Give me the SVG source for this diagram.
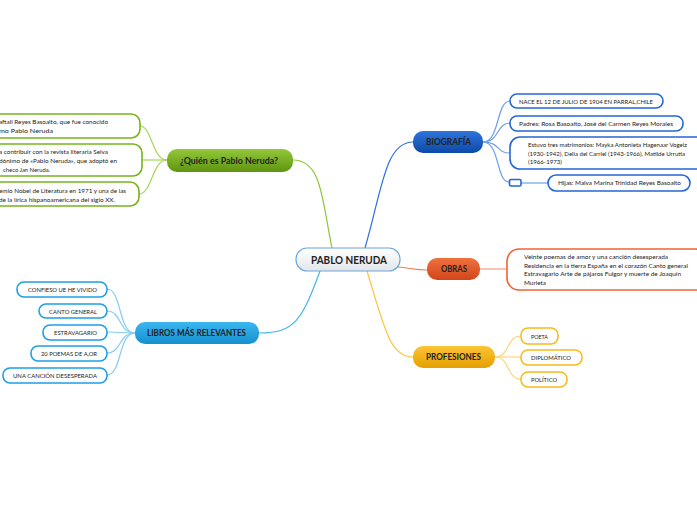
<svg xmlns="http://www.w3.org/2000/svg" width="697" height="520" viewBox="0 0 697 520">
<defs>
<linearGradient id="gCenter" x1="0" y1="0" x2="0" y2="1"><stop offset="0" stop-color="#ffffff"/><stop offset="1" stop-color="#e2e6ea"/></linearGradient>
<linearGradient id="gGreen" x1="0" y1="0" x2="0" y2="1"><stop offset="0" stop-color="#94c83a"/><stop offset="1" stop-color="#5e9410"/></linearGradient>
<linearGradient id="gBlue" x1="0" y1="0" x2="0" y2="1"><stop offset="0" stop-color="#2f74dc"/><stop offset="1" stop-color="#0d4aa8"/></linearGradient>
<linearGradient id="gRed" x1="0" y1="0" x2="0" y2="1"><stop offset="0" stop-color="#f2703e"/><stop offset="1" stop-color="#d0461a"/></linearGradient>
<linearGradient id="gYellow" x1="0" y1="0" x2="0" y2="1"><stop offset="0" stop-color="#fcc437"/><stop offset="1" stop-color="#e59f00"/></linearGradient>
<linearGradient id="gSky" x1="0" y1="0" x2="0" y2="1"><stop offset="0" stop-color="#3cb6ef"/><stop offset="1" stop-color="#1590d0"/></linearGradient>
</defs>
<style>
text{font-family:Lato,"Open Sans","Liberation Sans",sans-serif;fill:#222}
.main{font-weight:bold;font-size:10.5px}
.br{font-weight:bold;font-size:8.5px}
.sub{font-size:6.2px}
.cap{font-size:6px}
.conn path{fill:none;stroke-width:1.2}
.bx{fill:#fff;stroke-width:1.6}
</style>
<rect width="697" height="520" fill="#fff"/>
<g class="conn" id="connectors">
<path d="M332,248 C322,200 322,160 293,160" stroke="#8fc53a"/>
<path d="M365,248 C382,190 385,142 413,142" stroke="#2d6fe0"/>
<path d="M398,267 C410,268 415,270 427,270" stroke="#f57c55"/>
<path d="M367,271 C385,330 390,357 413,357" stroke="#fcc43a"/>
<path d="M320,271 C302,320 295,333 259,333" stroke="#45b6ee"/>
<g stroke="#a8d45a">
<path d="M167,160 C152,160 152,126 140,126"/>
<path d="M167,160 L142,160"/>
<path d="M167,160 C152,160 152,194 139,194"/>
</g>
<g stroke="#6fa0ea">
<path d="M483,142 C500,142 496,101 510,101"/>
<path d="M483,142 C500,142 496,123 510,123"/>
<path d="M483,142 C500,142 496,153 510,153"/>
<path d="M483,142 C500,142 496,182 509,182"/>
<path d="M521,183 L548,183"/>
</g>
<g stroke="#f79a7d">
<path d="M480,269 L507,269"/>
</g>
<g stroke="#fdd57a">
<path d="M495,357 C510,357 506,336 521,336"/>
<path d="M495,357 L521,357"/>
<path d="M495,357 C510,357 506,379 521,379"/>
</g>
<g stroke="#85cdf3">
<path d="M135,333 C118,333 122,289 107,289"/>
<path d="M135,333 C118,333 122,311 107,311"/>
<path d="M135,333 L107,332"/>
<path d="M135,333 C118,333 122,353 107,353"/>
<path d="M135,333 C118,333 122,375 107,375"/>
</g>
</g>
<g id="center">
<rect x="296" y="248" width="104" height="23" rx="11" fill="url(#gCenter)" stroke="#6ea6d8" stroke-width="1.2"/>
<text class="main" x="311" y="263.5" textLength="76" lengthAdjust="spacingAndGlyphs">PABLO NERUDA</text>
</g>
<g id="quien">
<rect x="167" y="149" width="126" height="23" rx="10" fill="url(#gGreen)"/>
<text class="br" x="180" y="163.5" textLength="98" lengthAdjust="spacingAndGlyphs">¿Quién es Pablo Neruda?</text>
</g>
<g id="q1">
<rect class="bx" x="-20" y="114" width="160" height="24" rx="9" stroke="#77b41c"/>
<text class="sub" x="-1" y="124" textLength="109" lengthAdjust="spacingAndGlyphs">aftali Reyes Basoalto, que fue conocido</text>
<text class="sub" x="-1" y="133" textLength="54" lengthAdjust="spacingAndGlyphs">mo Pablo Neruda</text>
</g>
<g id="q2">
<rect class="bx" x="-20" y="144" width="162" height="32" rx="9" stroke="#77b41c"/>
<text class="sub" x="-1" y="154" textLength="109" lengthAdjust="spacingAndGlyphs">a contribuir con la revista literaria Selva</text>
<text class="sub" x="-1" y="163" textLength="118" lengthAdjust="spacingAndGlyphs">dónimo de «Pablo Neruda», que adoptó en</text>
<text class="sub" x="3" y="171.5" textLength="47" lengthAdjust="spacingAndGlyphs">checo Jan Neruda.</text>
</g>
<g id="q3">
<rect class="bx" x="-20" y="182" width="159" height="24" rx="9" stroke="#77b41c"/>
<text class="sub" x="-1" y="193" textLength="127" lengthAdjust="spacingAndGlyphs">emio Nobel de Literatura en 1971 y una de las</text>
<text class="sub" x="-1" y="201.5" textLength="116" lengthAdjust="spacingAndGlyphs">de la lírica hispanoamericana del siglo XX.</text>
</g>
<g id="biografia">
<rect x="413" y="131" width="70" height="22" rx="10" fill="url(#gBlue)"/>
<text class="br" x="426" y="145" textLength="45" lengthAdjust="spacingAndGlyphs">BIOGRAFÍA</text>
</g>
<g id="b1">
<rect class="bx" x="510" y="94" width="153" height="14" rx="7" stroke="#2566d8"/>
<text class="cap" x="519" y="103.5" textLength="134" lengthAdjust="spacingAndGlyphs">NACE EL 12 DE JULIO DE 1904 EN PARRAL,CHILE</text>
</g>
<g id="b2">
<rect class="bx" x="510" y="116" width="173" height="15" rx="7" stroke="#2566d8"/>
<text class="sub" x="519" y="125.5" textLength="154" lengthAdjust="spacingAndGlyphs">Padres: Rosa Basoalto, José del Carmen Reyes Morales</text>
</g>
<g id="b3">
<rect class="bx" x="510" y="137" width="200" height="32" rx="10" stroke="#2566d8"/>
<text class="sub" x="528" y="147" textLength="159" lengthAdjust="spacingAndGlyphs">Estuvo tres matrimonios: Mayka Antonieta Hagenaar Vogelz</text>
<text class="sub" x="528" y="155.5" textLength="157" lengthAdjust="spacingAndGlyphs">(1930-1942), Delia del Carriel (1943-1966), Matilde Urrutia</text>
<text class="sub" x="528" y="164" textLength="34" lengthAdjust="spacingAndGlyphs">(1966-1973)</text>
</g>
<g id="b4">
<rect class="bx" x="509.5" y="179.5" width="11.5" height="6.5" rx="1.5" stroke="#2566d8"/>
</g>
<g id="b5">
<rect class="bx" x="548" y="175" width="142" height="16" rx="8" stroke="#2566d8"/>
<text class="sub" x="558" y="185" textLength="123" lengthAdjust="spacingAndGlyphs">Hijas: Malva Marina Trinidad Reyes Basoalto</text>
</g>
<g id="obras">
<rect x="427" y="258" width="53" height="22" rx="10" fill="url(#gRed)"/>
<text class="br" x="441" y="272" textLength="26" lengthAdjust="spacingAndGlyphs">OBRAS</text>
</g>
<g id="o1">
<rect class="bx" x="507" y="249" width="200" height="41" rx="12" stroke="#ef6335"/>
<text class="sub" x="524" y="258.5" textLength="144" lengthAdjust="spacingAndGlyphs">Veinte poemas de amor y una canción desesperada</text>
<text class="sub" x="524" y="267.5" textLength="164" lengthAdjust="spacingAndGlyphs">Residencia en la tierra España en el corazón Canto general</text>
<text class="sub" x="524" y="276" textLength="157" lengthAdjust="spacingAndGlyphs">Estravagario Arte de pájaros Fulgor y muerte de Joaquín</text>
<text class="sub" x="524" y="285" textLength="22" lengthAdjust="spacingAndGlyphs">Murieta</text>
</g>
<g id="profesiones">
<rect x="413" y="346" width="82" height="22" rx="10" fill="url(#gYellow)"/>
<text class="br" x="426" y="360" textLength="55" lengthAdjust="spacingAndGlyphs">PROFESIONES</text>
</g>
<g id="p1">
<rect class="bx" x="521" y="328" width="37" height="16" rx="7" stroke="#f7bb1c"/>
<text class="cap" x="531" y="338.5" textLength="17" lengthAdjust="spacingAndGlyphs">POETA</text>
</g>
<g id="p2">
<rect class="bx" x="521" y="350" width="61" height="15" rx="7" stroke="#f7bb1c"/>
<text class="cap" x="531" y="360" textLength="40" lengthAdjust="spacingAndGlyphs">DIPLOMÁTICO</text>
</g>
<g id="p3">
<rect class="bx" x="521" y="372" width="46" height="15" rx="7" stroke="#f7bb1c"/>
<text class="cap" x="531" y="382" textLength="26" lengthAdjust="spacingAndGlyphs">POLÍTICO</text>
</g>
<g id="libros">
<rect x="135" y="322" width="124" height="22" rx="10" fill="url(#gSky)"/>
<text class="br" x="147" y="336" textLength="99" lengthAdjust="spacingAndGlyphs">LIBROS MÁS RELEVANTES</text>
</g>
<g id="l1">
<rect class="bx" x="17" y="282" width="90" height="15" rx="7" stroke="#1d9fe6"/>
<text class="cap" x="28" y="292" textLength="69" lengthAdjust="spacingAndGlyphs">CONFIESO UE HE VIVIDO</text>
</g>
<g id="l2">
<rect class="bx" x="39" y="304" width="68" height="14" rx="7" stroke="#1d9fe6"/>
<text class="cap" x="49" y="313.5" textLength="48" lengthAdjust="spacingAndGlyphs">CANTO GENERAL</text>
</g>
<g id="l3">
<rect class="bx" x="43" y="325" width="64" height="15" rx="7" stroke="#1d9fe6"/>
<text class="cap" x="54" y="335" textLength="43" lengthAdjust="spacingAndGlyphs">ESTRAVAGARIO</text>
</g>
<g id="l4">
<rect class="bx" x="31" y="346" width="76" height="15" rx="7" stroke="#1d9fe6"/>
<text class="cap" x="41" y="356" textLength="56" lengthAdjust="spacingAndGlyphs">20 POEMAS DE A,OR</text>
</g>
<g id="l5">
<rect class="bx" x="3" y="368" width="104" height="15" rx="7" stroke="#1d9fe6"/>
<text class="cap" x="13" y="378" textLength="84" lengthAdjust="spacingAndGlyphs">UNA CANCIÓN DESESPERADA</text>
</g>
</svg>
